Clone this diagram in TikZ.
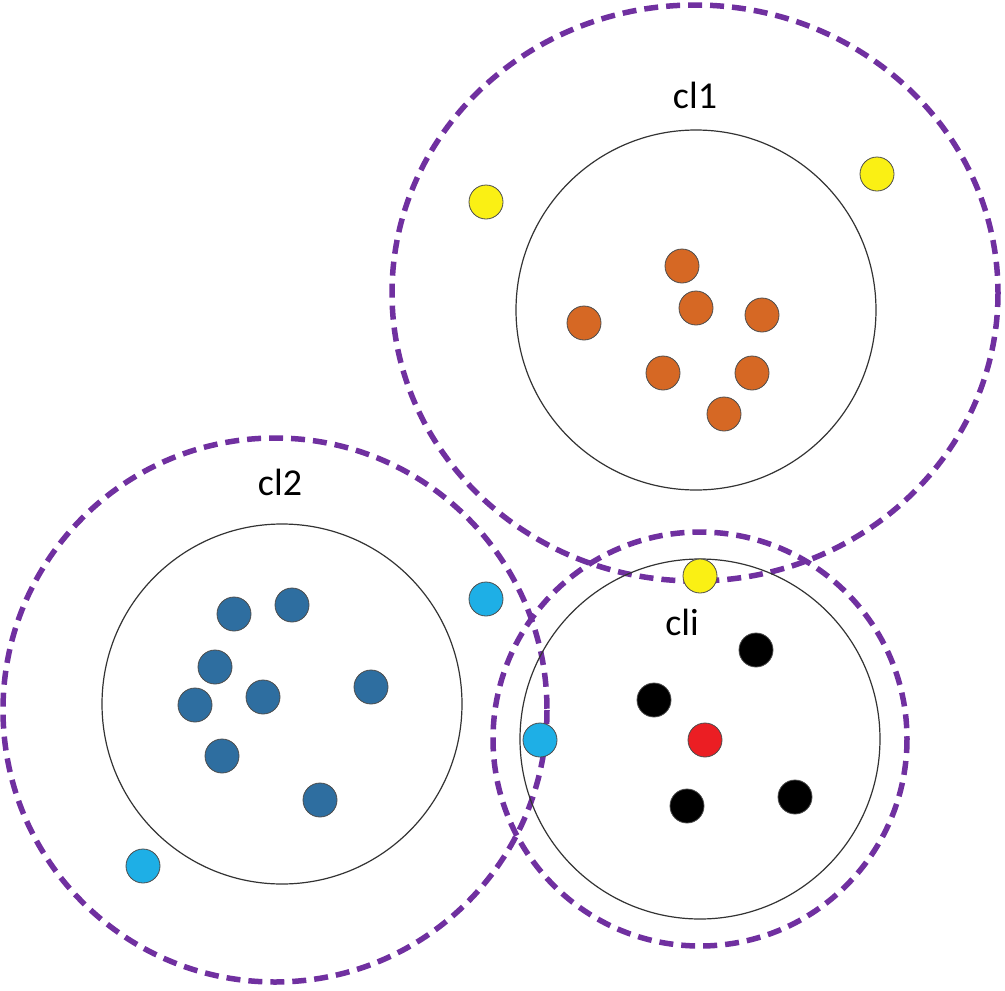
\documentclass[tikz,border=0pt]{standalone}
\usepackage{fontspec}
\setmainfont{Carlito}
\begin{document}
\begin{tikzpicture}[x=1pt,y=-1pt,
 outer/.style={draw={rgb,255:red,112;green,48;blue,160},line width=5.5pt,dash pattern=on 14pt off 8pt},
 inner/.style={draw=black!80,line width=1.2pt},
 dot/.style={circle,draw=black!70,line width=0.8pt,minimum size=34pt,inner sep=0pt},
 lab/.style={font=\fontsize{38}{42}\selectfont}]
\definecolor{orng}{RGB}{214,104,36}
\definecolor{yel}{RGB}{250,240,20}
\definecolor{dblue}{RGB}{46,110,160}
\definecolor{lblue}{RGB}{30,175,230}
\definecolor{redd}{RGB}{235,30,35}
\useasboundingbox (0,0) rectangle (1005,991);
\draw[outer] (695,293) ellipse (303 and 288);
\draw[outer] (275,710) circle (272);
\draw[outer] (700,739) circle (207);
\draw[inner] (696,310) circle (180);
\draw[inner] (282,704) circle (180);
\draw[inner] (700,739) circle (180);
\node[lab] (l1) at (695,95) {cl1};
\node[lab] (l2) at (280,482) {cl2};
\node[lab] (li) at (682,622) {cli};
\foreach \p [count=\i] in {(682,266),(696,308),(584,323),(762,315),(663,373),(752,373),(724,414)}
  \node[dot,fill=orng] (o\i) at \p {};
\foreach \p [count=\i] in {(486,202),(877,174),(700,576)}
  \node[dot,fill=yel] (y\i) at \p {};
\foreach \p [count=\i] in {(234,614),(292,605),(215,667),(263,697),(195,705),(371,687),(222,756),(320,800)}
  \node[dot,fill=dblue] (b\i) at \p {};
\foreach \p [count=\i] in {(486,599),(540,740),(143,866)}
  \node[dot,fill=lblue] (c\i) at \p {};
\foreach \p [count=\i] in {(756,650),(654,700),(795,797),(687,806)}
  \node[dot,fill=black] (k\i) at \p {};
\node[dot,fill=redd] (r1) at (705,740) {};
\end{tikzpicture}
\end{document}
